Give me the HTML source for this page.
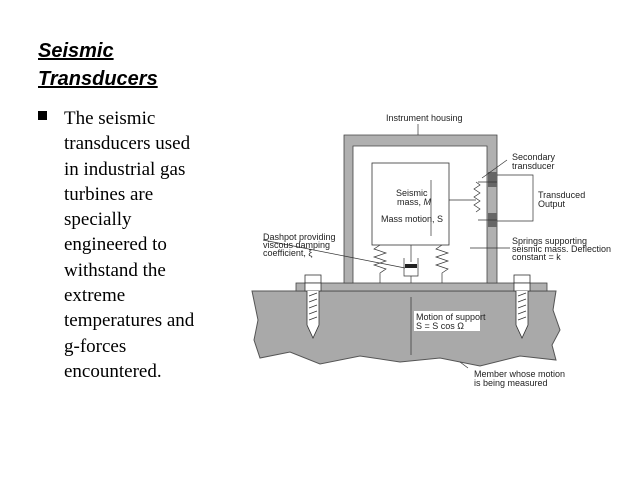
<!DOCTYPE html>
<html><head><style>
body{margin:0;width:638px;height:478px;background:#fff;position:relative;overflow:hidden;font-family:"Liberation Serif",serif}
.t{position:absolute;left:38px;font-family:"Liberation Sans",sans-serif;font-weight:bold;font-style:italic;font-size:20px;text-decoration:underline;color:#000}
.b{position:absolute;left:64px;top:106px;font-size:19px;line-height:25.3px;color:#000}
.bul{position:absolute;left:38px;top:111px;width:9px;height:9px;background:#000}
svg{position:absolute;left:0;top:0}
svg text{font-family:"Liberation Sans",sans-serif;font-size:9px;fill:#222}
</style></head><body>
<div class="t" style="top:40px">Seismic</div>
<div class="t" style="top:68px">Transducers</div>
<div class="bul"></div>
<div class="b">The seismic<br>transducers used<br>in industrial gas<br>turbines are<br>specially<br>engineered to<br>withstand the<br>extreme<br>temperatures and<br>g-forces<br>encountered.</div>
<svg width="638" height="478" viewBox="0 0 638 478">
<path d="M252,291 L556,291 L553,310 L560,330 L552,345 L556,360 L520,356 L480,366 L440,358 L400,362 L360,356 L320,364 L290,352 L260,358 L254,340 L258,320 Z" fill="#a9a9a9" stroke="#555"/>
<rect x="296" y="283" width="251" height="8" fill="#b0b0b0" stroke="#444" stroke-width="0.8"/>
<path d="M344,283 V135 H497 V283 H487 V146 H353 V283 Z" fill="#b0b0b0" stroke="#444" stroke-width="0.8"/>
<rect x="488" y="172" width="9" height="15" fill="#666"/><rect x="488" y="213" width="9" height="14" fill="#666"/>
<rect x="372" y="163" width="77" height="82" fill="#fff" stroke="#333" stroke-width="0.8"/>
<g fill="#fff" stroke="#333" stroke-width="0.8">
<rect x="305" y="275" width="16" height="8"/><rect x="305" y="283" width="16" height="8"/>
<path d="M307,291 V325 L313,338 L319,325 V291"/>
<rect x="514" y="275" width="16" height="8"/><rect x="514" y="283" width="16" height="8"/>
<path d="M516,291 V325 L522,338 L528,325 V291"/>
</g>
<g stroke="#333" stroke-width="0.7" fill="none">
<path d="M309,296 l8,-3 M309,302 l8,-3 M309,308 l8,-3 M309,314 l8,-3 M309,320 l8,-3 M518,296 l8,-3 M518,302 l8,-3 M518,308 l8,-3 M518,314 l8,-3 M518,320 l8,-3"/>
<path d="M380,245 l-6,4 l12,4 l-12,4 l12,4 l-12,4 l12,4 l-6,4 V283"/>
<path d="M442,245 l-6,4 l12,4 l-12,4 l12,4 l-12,4 l12,4 l-6,4 V283"/>
<path d="M411,245 V262 M404,258 V276 H418 V258 M411,276 V283"/>
<path d="M476,182 l4,3 l-6,4 l6,4 l-6,4 l6,4 l-6,4 l6,4 l-4,3"/>
<path d="M449,200 H476 M478,182 H497 M478,220 H497 M497,175 H533 M497,221 H533 M530,175 H533 V221 H530"/>
<path d="M431,180 V236 M411,297 V355 M418,124 V135 M507,160 L482,178 M263,240 L405,268 M510,248 L470,248 M460,362 L468,368"/>
</g>
<rect x="405" y="264" width="12" height="4" fill="#222"/>
<text x="386" y="121">Instrument housing</text>
<text x="512" y="160">Secondary</text><text x="512" y="169">transducer</text>
<text x="538" y="198">Transduced</text><text x="538" y="207">Output</text>
<text x="396" y="196">Seismic</text><text x="397" y="205">mass, <tspan font-style="italic">M</tspan></text>
<text x="381" y="222">Mass motion, S</text>
<text x="263" y="240">Dashpot providing</text><text x="263" y="248">viscous damping</text><text x="263" y="256">coefficient, ξ</text>
<text x="512" y="244">Springs supporting</text><text x="512" y="252">seismic mass. Deflection</text><text x="512" y="260">constant = k</text>
<rect x="414" y="311" width="66" height="20" fill="#fff"/>
<text x="416" y="320">Motion of support</text><text x="416" y="329">S = S cos Ω</text>
<text x="474" y="377">Member whose motion</text><text x="474" y="386">is being measured</text>
</svg>
</body></html>
